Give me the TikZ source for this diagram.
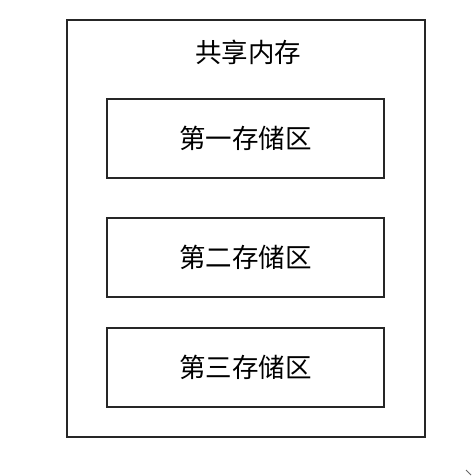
\documentclass[tikz,border=0pt]{standalone}
\usepackage{fontspec}
\newfontfamily\cjk{Noto Sans CJK SC}
\usepackage{tikz}
\tikzset{every picture/.style={x=1pt,y=-1pt},
  membox/.style={draw=black!85, line width=1.1pt, minimum width=358pt, minimum height=417pt, inner sep=0pt},
  regionbox/.style={draw=black!85, line width=1.2pt, minimum width=277pt, minimum height=79pt, inner sep=0pt, font=\cjk\fontsize{26.5}{26.5}\selectfont},
  caption/.style={inner sep=0pt, font=\cjk\fontsize{26.5}{26.5}\selectfont}}

\begin{document}
\begin{tikzpicture}
        \useasboundingbox (0,0) rectangle (474,476);
        \node[membox] (mem) at (246, 228.5) {};
        \node[caption] (title) at (248, 52) {共享内存};
        \node[regionbox] (r1) at (245.5, 138.5) {第一存储区};
        \node[regionbox] (r2) at (245.5, 257.5) {第二存储区};
        \node[regionbox] (r3) at (245.5, 367.5) {第三存储区};

        \draw[black!60, line width=0.8pt] (466, 470) -- (471, 475);
      \end{tikzpicture}
\end{document}
